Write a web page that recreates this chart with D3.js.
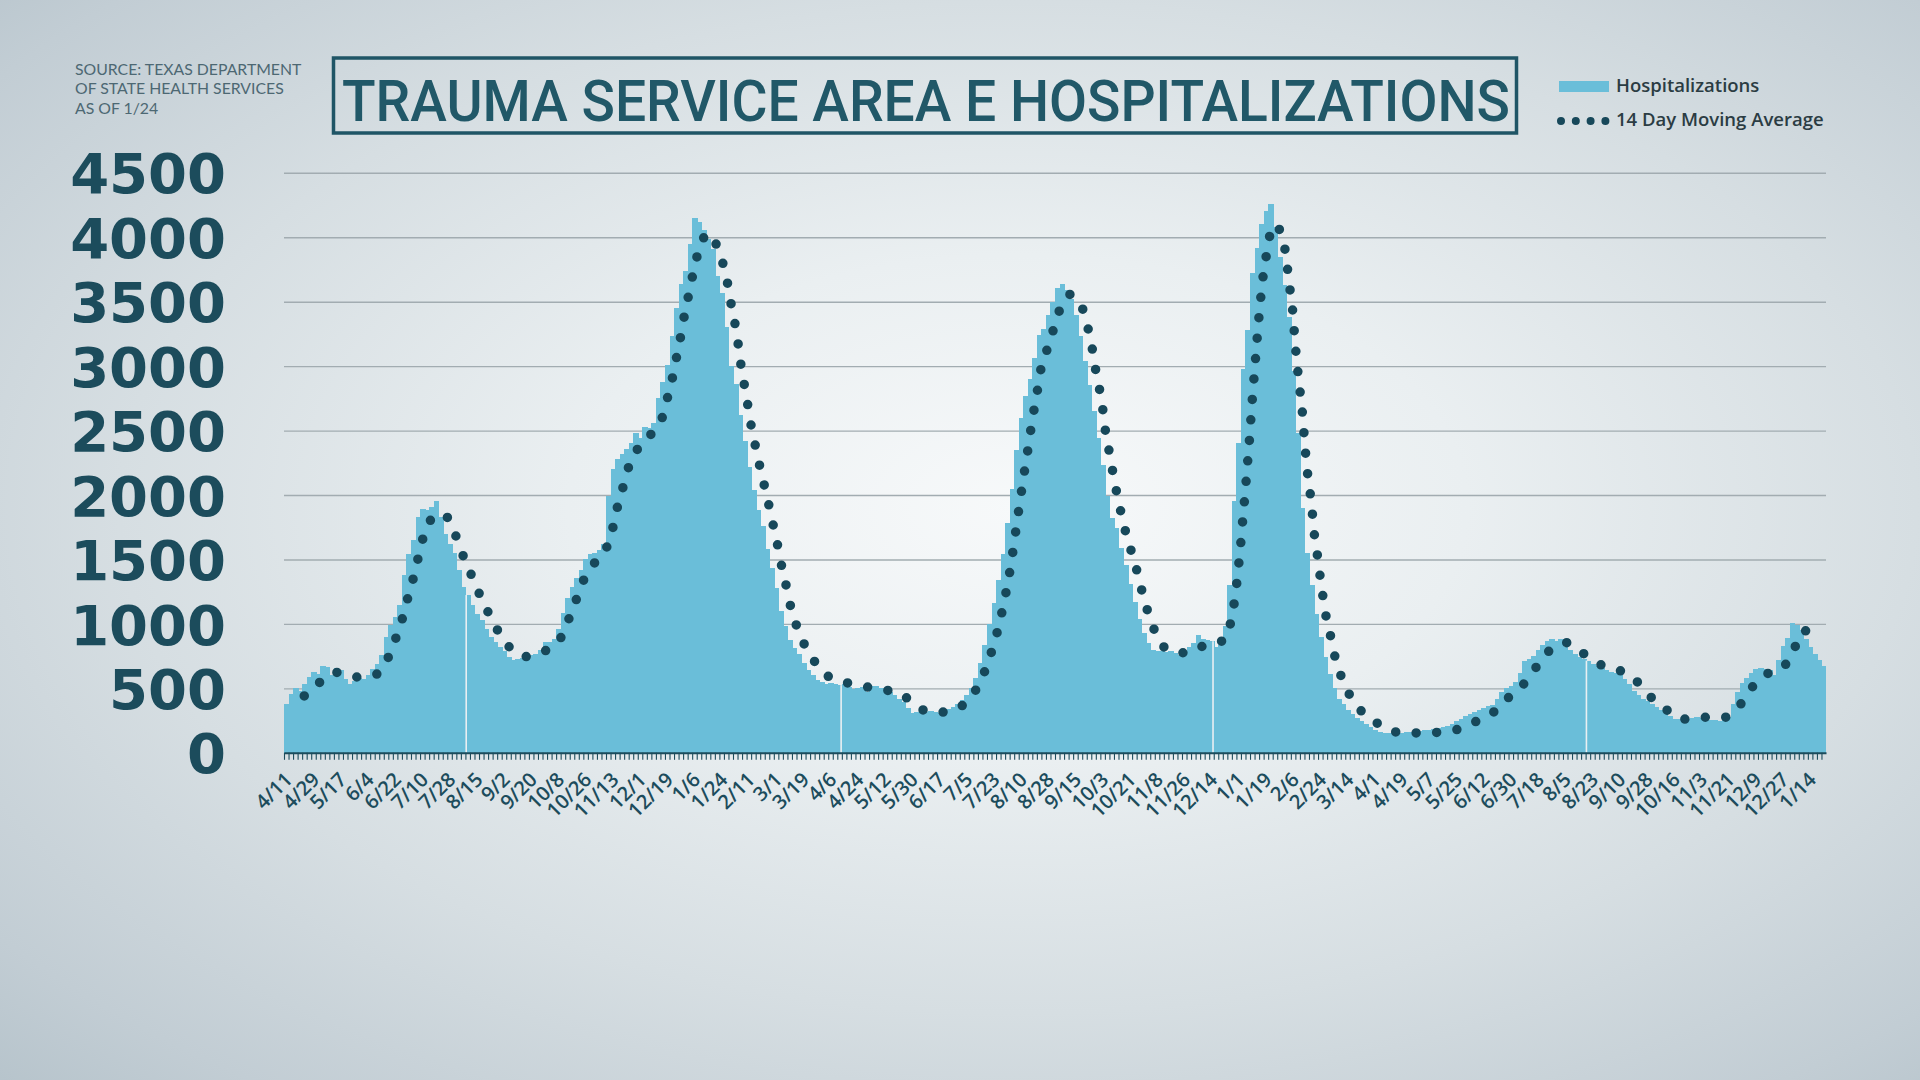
<!DOCTYPE html>
<html><head><meta charset="utf-8">
<script src="https://cdn.jsdelivr.net/npm/d3@7"></script>
<style>html,body{margin:0;padding:0;overflow:hidden;background:#dde4e8}svg{display:block}</style>
</head><body>
<svg id="chart" width="1920" height="1080"></svg>
<script>
// ---------------- DATA ----------------
const startDate = "2020-04-11";      // first day on the axis
const bucketDays = 3;                // each value below covers 3 days
const hospitalizations = [
  380,460,500,480,530,590,630,610,670,665,
  600,660,640,570,530,560,580,570,600,650,
  690,760,900,990,1050,1150,1380,1540,1650,1830,
  1890,1880,1910,1950,1830,1700,1620,1550,1420,1290,
  1224,1150,1080,1030,960,900,860,823,790,740,
  720,730,735,745,760,770,800,860,860,880,
  960,1085,1200,1290,1360,1420,1500,1540,
  1550,1570,1620,1990,2200,2280,2320,2360,2400,2480,
  2440,2530,2520,2560,2750,2880,3010,3230,3450,3640,
  3740,3950,4150,4120,4060,3990,3910,3700,3570,3300,
  3000,2860,2620,2420,2220,2040,1880,1760,1580,1430,
  1280,1100,980,874,810,765,700,640,600,565,
  550,537,540,530,525,537,510,
  494,505,510,470,520,515,500,490,470,450,
  420,396,350,312,315,310,320,326,318,312,
  325,340,355,380,410,450,500,580,700,840,
  1000,1160,1340,1540,1780,2050,2350,2600,2770,2900,
  3060,3240,3290,3400,3500,3610,3640,3590,3520,3400,
  3230,3040,2850,2650,2440,2230,1990,1820,1744,1590,
  1460,1310,1170,1040,930,850,800,789,790,785,
  789,775,761,790,817,850,916,880,874,866,
  823,840,980,1300,1950,2400,2980,3280,3720,3920,
  4100,4200,4260,4080,3850,3630,3380,2960,2480,1900,
  1550,1300,1080,900,740,610,500,420,380,330,
  300,270,245,220,198,180,165,154,150,152,
  154,155,158,162,169,172,175,180,185,190,
  198,210,225,245,262,285,300,315,330,345,
  360,372,420,470,500,520,547,620,710,730,
  750,800,837,870,880,870,
  880,820,800,770,745,724,715,690,671,655,
  645,630,619,600,570,530,480,450,420,400,
  375,355,330,305,285,265,262,263,266,272,
  276,268,263,258,252,250,262,276,380,470,
  540,580,619,650,658,650,645,600,720,830,
  890,1010,990,950,880,820,770,720,671
];
// days without a report (drawn as thin breaks)
const gapDates = ["2020-08-09","2021-04-14","2021-12-16","2022-08-20"];

// 14 day moving average, read at points along the dotted line (days since startDate)
const maDayOffsets = [
  13.4,23.3,34.1,46.7,58.8,67.8,73.1,77.7,81.2,85.0,88.3,91.6,96.9,105.4,112.7,117.6,123.0,128.4,134.3,140.7,148.4,159.4,171.0,182.3,187.8,192.9,197.8,
  205.2,213.4,217.6,220.6,224.4,228.1,234.5,243.3,250.6,254.1,257.4,260.0,262.7,265.1,268.0,270.8,274.1,280.8,287.4,291.5,294.4,296.6,299.4,301.2,303.2,305.8,307.8,310.5,313.3,316.4,319.7,322.6,325.7,328.3,331.4,334.2,338.0,343.0,349.6,358.0,370.1,
  382.9,395.2,408.0,418.6,430.3,442.6,453.4,460.9,466.0,470.1,473.6,476.5,479.2,481.4,483.4,485.3,487.3,489.3,491.5,493.5,495.7,498.1,500.3,504.3,508.5,512.6,519.9,528.0,531.8,534.6,536.8,539.5,541.7,543.4,545.9,548.3,550.9,553.8,557.1,561.1,564.8,568.1,572.1,577.1,585.3,597.8,609.6,
  622.0,626.5,628.9,630.6,632.0,633.3,634.4,635.7,636.8,637.9,639.0,639.9,641.0,642.1,643.2,644.3,645.6,646.9,648.9,650.9,655.3,661.0,663.3,664.8,666.8,667.9,669.0,670.3,671.8,673.4,674.5,675.6,676.9,678.7,680.2,681.5,683.5,685.3,687.2,689.4,692.5,695.4,699.8,705.5,713.9,724.9,736.8,750.6,764.5,777.5,789.6,800.6,810.1,820.6,828.6,837.2,848.5,
  859.7,870.9,883.0,894.2,903.5,913.6,924.8,938.3,952.2,962.3,970.2,979.7,991.6,998.8,1005.0,1014.2
];
const maValues = [
  441,544,624,588,598,712,862,1017,1172,1330,1490,1651,1804,1853,1711,1555,1405,1255,1108,963,829,746,782,877,1021,1175,1329,
  1469,1593,1750,1910,2067,2222,2368,2480,2615,2775,2933,3090,3250,3410,3570,3730,3888,4031,3899,3744,3581,3421,3261,3098,2935,2775,2615,2455,2298,2138,1978,1817,1660,1497,1340,1180,1022,871,733,610,551,
  517,492,458,357,312,331,421,559,713,865,1022,1183,1343,1503,1666,1826,1986,2146,2309,2469,2632,2792,2955,3112,3267,3421,3556,3452,3295,3138,2978,2817,2657,2494,2334,2174,2014,1857,1697,1539,1385,1228,1070,916,795,775,838,
  875,1029,1192,1355,1517,1680,1840,2003,2166,2326,2488,2651,2814,2977,3137,3302,3465,3628,3788,3945,4099,3971,3808,3645,3483,3323,3160,2997,2834,2672,2509,2346,2186,2023,1863,1701,1538,1375,1215,1052,895,735,578,436,308,218,160,154,160,186,250,320,430,541,669,794,854,
  769,684,642,561,440,342,261,276,274,358,495,603,663,803,950,866
];

const yTicks = [0,500,1000,1500,2000,2500,3000,3500,4000,4500];
const xTickLabels = ["4/11","4/29","5/17","6/4","6/22","7/10","7/28","8/15","9/2","9/20","10/8","10/26","11/13","12/1","12/19",
  "1/6","1/24","2/11","3/1","3/19","4/6","4/24","5/12","5/30","6/17","7/5","7/23","8/10","8/28","9/15","10/3","10/21","11/8","11/26","12/14",
  "1/1","1/19","2/6","2/24","3/14","4/1","4/19","5/7","5/25","6/12","6/30","7/18","8/5","8/23","9/10","9/28","10/16","11/3","11/21","12/9","12/27","1/14"];
const labelEvery = 6;  // one label every 6 ticks (18 days)

const titleText = "TRAUMA SERVICE AREA E HOSPITALIZATIONS";
const sourceLines = ["SOURCE: TEXAS DEPARTMENT","OF STATE HEALTH SERVICES","AS OF 1/24"];
const legendLabels = ["Hospitalizations","14 Day Moving Average"];

// ---------------- DRAW ----------------
const svg = d3.select("#chart");
const W = 1920, H = 1080;
const barColor = "#6abed9", dark = "#1c4c5c";

const defs = svg.append("defs");
const rg = defs.append("radialGradient").attr("id","bg").attr("cx",0.53).attr("cy",0.47).attr("r",0.78);
[[0,"#f7f9fa"],[0.3,"#eaeff1"],[0.6,"#d6dee2"],[0.85,"#c2cdd4"],[1,"#b3c1c9"]].forEach(([o,c]) =>
  rg.append("stop").attr("offset",o).attr("stop-color",c));
svg.append("rect").attr("width",W).attr("height",H).attr("fill","url(#bg)");

const parse = d3.utcParse("%Y-%m-%d");
const start = parse(startDate);
const atDay = d => new Date(start.getTime() + d * 864e5);
const nDays = hospitalizations.length * bucketDays;

const x = d3.scaleUtc().domain([start, atDay(nDays)]).range([284, 1826]);
const y = d3.scaleLinear().domain([0, 4500]).range([752.8, 172.8]);

// y axis + gridlines
const gy = svg.append("g").attr("transform","translate(284,0)")
  .call(d3.axisLeft(y).tickValues(yTicks).tickSize(-(1826-284)).tickPadding(58).tickFormat(d3.format("d")));
gy.select(".domain").remove();
gy.selectAll(".tick line").attr("stroke","#a2acb1").attr("stroke-width",1.4);
gy.selectAll(".tick text").attr("fill",dark).attr("font-family","'DejaVu Sans', sans-serif")
  .attr("font-weight","bold").attr("font-size",56).attr("dy","0.36em");

// bars
const bars = hospitalizations.map((v,i) => ({d0: atDay(i*bucketDays), d1: atDay((i+1)*bucketDays), v}));
svg.append("g").attr("shape-rendering","crispEdges").selectAll("rect").data(bars).join("rect")
  .attr("x", d => x(d.d0)).attr("width", (d,i) => x(d.d1) - x(d.d0) + (i < bars.length - 1 ? 1 : 0))
  .attr("y", d => y(d.v)).attr("height", d => y(0) - y(d.v))
  .attr("fill", barColor);

// missing days
const gapValue = d => hospitalizations[Math.floor(d3.utcDay.count(start, d) / bucketDays)];
svg.append("g").selectAll("rect").data(gapDates.map(parse)).join("rect")
  .attr("x", d => x(d)).attr("width", 1.6)
  .attr("y", d => y(gapValue(d))).attr("height", d => y(0) - y(gapValue(d)))
  .attr("fill","#e9eff2");

// x axis
const tickDates = d3.range(0, nDays, bucketDays).map(atDay);
const gx = svg.append("g").attr("transform",`translate(0,${y(0)})`)
  .call(d3.axisBottom(x).tickValues(tickDates).tickSize(7).tickSizeOuter(0)
    .tickFormat((d,i) => i % labelEvery === 0 ? xTickLabels[i/labelEvery] : ""));
gx.select(".domain").attr("stroke",dark).attr("stroke-width",2);
gx.selectAll(".tick line").attr("stroke",dark).attr("stroke-width",1.1);
gx.selectAll(".tick text").attr("fill",dark).attr("font-family","'Open Sans', sans-serif")
  .attr("font-weight",600).attr("font-size",20).attr("text-anchor","end")
  .attr("x",0).attr("y",0).attr("dy",0).attr("transform","translate(9,28) rotate(-45)");

// moving average dotted line
const ma = maDayOffsets.map((d,i) => ({date: atDay(d), v: maValues[i]}));
svg.append("path").datum(ma)
  .attr("d", d3.line().x(d => x(d.date)).y(d => y(d.v)).curve(d3.curveMonotoneX))
  .attr("fill","none").attr("stroke","#17485a").attr("stroke-width",9.5)
  .attr("stroke-linecap","round").attr("stroke-dasharray","0 20.5");

// title
svg.append("rect").attr("x",333.5).attr("y",58).attr("width",1183).attr("height",75)
  .attr("fill","none").attr("stroke","#1f5566").attr("stroke-width",3.5);
svg.append("text").attr("x",926).attr("y",121).attr("text-anchor","middle")
  .attr("font-family","Roboto, sans-serif").attr("font-weight",500).attr("font-size",58)
  .attr("fill","#215868").attr("textLength",1168).attr("lengthAdjust","spacingAndGlyphs").text(titleText);

// source
svg.append("g").selectAll("text").data(sourceLines).join("text")
  .attr("x",75).attr("y",(d,i) => 74.5 + i*19.6)
  .attr("font-family","Lato, sans-serif").attr("font-size",15.8).attr("fill","#4d6873").text(d => d);

// legend
const lg = svg.append("g");
lg.append("rect").attr("x",1559).attr("y",81).attr("width",50).attr("height",11).attr("fill",barColor);
lg.append("path").attr("d","M1561,121H1606").attr("stroke","#17485a").attr("stroke-width",8)
  .attr("stroke-linecap","round").attr("stroke-dasharray","0 14.8");
lg.selectAll("text").data(legendLabels).join("text")
  .attr("x",1616).attr("y",(d,i) => 92 + i*34)
  .attr("font-family","'Open Sans', sans-serif").attr("font-weight",600).attr("font-size",18.5)
  .attr("fill","#2b3c43").text(d => d);
</script>
</body></html>
